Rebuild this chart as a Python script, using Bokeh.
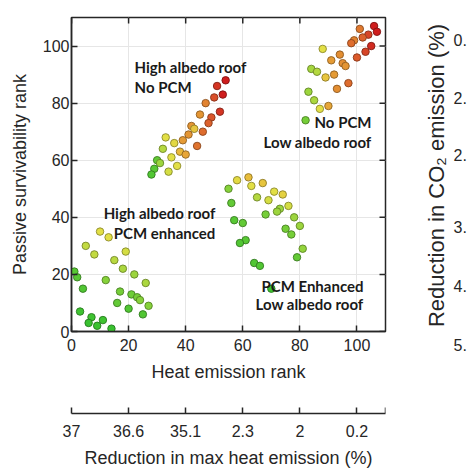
import numpy as np
from bokeh.plotting import figure
from bokeh.layouts import row, column
from bokeh.models import ColumnDataSource, LinearAxis, FixedTicker, Label, Range1d, LinearColorMapper
from bokeh.embed import file_html
from bokeh.resources import INLINE

# ---- data: heat emission rank (x), passive survivability rank (y), colour value c (0 green .. 1 red)
# High albedo roof / No PCM
a_x = [54, 51, 53, 50, 47, 52, 49, 45, 48, 42, 43, 46, 41, 33, 39, 36, 44, 32, 38, 40, 35, 30, 31, 37, 29, 34, 28]
a_y = [88, 86, 83, 82, 80, 77, 75, 76, 73, 72, 71, 70, 69, 68, 67, 66, 65, 64, 63, 62, 61, 60, 59, 58, 57, 56, 55]
a_c = [1.0, 0.95, 1.0, 0.9, 0.75, 0.95, 0.88, 0.7, 0.85, 0.7, 0.55, 0.82, 0.7, 0.45, 0.68, 0.48, 0.8, 0.35, 0.6, 0.65, 0.45, 0.15, 0.3, 0.45, 0.12, 0.42, 0.1]
# No PCM / Low albedo roof
b_x = [106, 107, 101, 104, 102, 99, 98, 105, 103, 88, 94, 100, 91, 95, 96, 84, 86, 92, 89, 97, 93, 83, 85, 90, 87, 82]
b_y = [107, 105, 106, 104, 103, 102, 101, 100, 98, 99, 97, 96, 95, 94, 93, 92, 91, 90, 89, 87, 85, 84, 81, 79, 78, 74]
b_c = [1.0, 1.0, 0.78, 0.92, 0.85, 0.75, 0.82, 0.97, 0.92, 0.45, 0.72, 0.87, 0.68, 0.72, 0.7, 0.32, 0.35, 0.68, 0.55, 0.82, 0.72, 0.3, 0.33, 0.65, 0.45, 0.2]
# PCM Enhanced / Low albedo roof
c_x = [62, 58, 67, 63, 55, 71, 74, 65, 69, 56, 76, 73, 72, 68, 78, 57, 60, 80, 75, 77, 61, 59, 81, 79, 64, 66, 70]
c_y = [54, 53, 52, 51, 50, 49, 48, 47, 46, 45, 44, 43, 42, 41, 40, 39, 38, 37, 36, 34, 32, 31, 29, 26, 24, 23, 15]
c_c = [0.58, 0.47, 0.55, 0.45, 0.25, 0.45, 0.5, 0.35, 0.42, 0.15, 0.42, 0.3, 0.3, 0.2, 0.3, 0.12, 0.15, 0.3, 0.2, 0.2, 0.12, 0.1, 0.28, 0.15, 0.1, 0.1, 0.05]
# High albedo roof / PCM enhanced
d_x = [10, 13, 5, 8, 19, 15, 18, 1, 2, 22, 26, 12, 4, 17, 21, 23, 24, 16, 27, 20, 3, 25, 7, 11, 6, 9, 14]
d_y = [35, 33, 30, 27, 28, 25, 22, 21, 19, 20, 17, 18, 15, 14, 13, 12, 11, 10, 9, 8, 7, 6, 5, 4, 3, 2, 1]
d_c = [0.45, 0.45, 0.38, 0.38, 0.42, 0.36, 0.33, 0.12, 0.12, 0.3, 0.33, 0.25, 0.1, 0.2, 0.18, 0.2, 0.25, 0.15, 0.25, 0.1, 0.05, 0.1, 0.05, 0.05, 0.03, 0.03, 0.03]

x_ticks = [0, 20, 40, 60, 80, 100]
y_ticks = [0, 20, 40, 60, 80, 100]
heat_red_ticks = [0, 20, 40, 60, 80, 100]
heat_red_labels = ["37", "36.6", "35.1", "2.3", "2", "0.2"]
co2_labels = ["0.", "2.", "2.", "3.", "4.", "5."]

# ---- colour palettes (green -> yellow -> orange -> red)
anchors = [(0.0, (47, 191, 47)), (0.25, (134, 210, 58)), (0.45, (226, 223, 69)),
           (0.6, (233, 184, 58)), (0.75, (226, 132, 48)), (0.9, (217, 80, 42)), (1.0, (207, 29, 29))]
def interp(t, k=1.0):
    for (t0, c0), (t1, c1) in zip(anchors[:-1], anchors[1:]):
        if t0 <= t <= t1:
            f = (t - t0) / (t1 - t0)
            rgb = [int(round((a + (b - a) * f) * k)) for a, b in zip(c0, c1)]
            return "#%02x%02x%02x" % tuple(rgb)
    return "#%02x%02x%02x" % anchors[-1][1]
pal = [interp(i / 255) for i in range(256)]
pal_dark = [interp(i / 255, 0.62) for i in range(256)]
fill_map = LinearColorMapper(palette=pal, low=0, high=1)
line_map = LinearColorMapper(palette=pal_dark, low=0, high=1)

FONT = "Liberation Sans"
DARK = "#262626"
XMAX, YMAX = 110, 110
FRAME = 314.0                      # frame size in px
TICK = 6 * XMAX / FRAME            # 6 px tick length in data units

p = figure(width=420, height=395, x_range=Range1d(0, XMAX), y_range=Range1d(0, YMAX),
           output_backend="svg", toolbar_location=None,
           min_border_left=71, min_border_right=35, min_border_top=17, min_border_bottom=64)
p.background_fill_color = "white"
p.border_fill_color = "white"
p.outline_line_color = DARK
p.outline_line_width = 1.5

for gx, gy, gc in [(a_x, a_y, a_c), (b_x, b_y, b_c), (c_x, c_y, c_c), (d_x, d_y, d_c)]:
    src = ColumnDataSource(dict(x=gx, y=gy, c=gc))
    p.scatter("x", "y", source=src, size=7.5,
              fill_color={"field": "c", "transform": fill_map},
              line_color={"field": "c", "transform": line_map}, line_width=0.9)

def style(ax, ticks):
    ax.ticker = FixedTicker(ticks=ticks)
    ax.axis_line_color = DARK
    ax.axis_line_width = 1.5
    ax.major_tick_line_color = DARK
    ax.major_tick_line_width = 1.5
    ax.major_tick_in = 6
    ax.major_tick_out = 0
    ax.minor_tick_line_color = None
    ax.major_label_text_font = FONT
    ax.major_label_text_color = DARK
    ax.major_label_text_font_size = "16px"
    ax.axis_label_text_font = FONT
    ax.axis_label_text_font_style = "normal"
    ax.axis_label_text_font_size = "18px"
    ax.axis_label_text_color = DARK

style(p.xaxis[0], x_ticks)
p.xaxis[0].axis_label = "Heat emission rank"
p.xaxis[0].major_label_standoff = 7
p.xaxis[0].axis_label_standoff = 8

style(p.yaxis[0], y_ticks)
p.yaxis[0].axis_label = "Passive survivability rank"
p.yaxis[0].major_label_standoff = 2
p.yaxis[0].axis_label_standoff = 10

# mirrored ticks on top and right of the box
p.segment(x0=x_ticks, y0=[YMAX] * len(x_ticks), x1=x_ticks, y1=[YMAX - TICK] * len(x_ticks),
          line_color=DARK, line_width=1.5)
p.segment(x0=[XMAX] * len(y_ticks), y0=y_ticks, x1=[XMAX - TICK] * len(y_ticks), y1=y_ticks,
          line_color=DARK, line_width=1.5)

p.xgrid.ticker = FixedTicker(ticks=x_ticks)
p.ygrid.ticker = FixedTicker(ticks=y_ticks)
p.xgrid.grid_line_color = "#e6e6e6"
p.ygrid.grid_line_color = "#e6e6e6"

# ---- annotations inside the plot
ann = [
    ("High albedo roof", 22.1, 92.6, "left"), ("No PCM", 22.1, 85.6, "left"),
    ("No PCM", 105.1, 73.3, "right"), ("Low albedo roof", 105.1, 66.3, "right"),
    ("High albedo roof", 50.4, 41.4, "right"), ("PCM enhanced", 50.4, 34.4, "right"),
    ("PCM Enhanced", 102.3, 16.1, "right"), ("Low albedo roof", 102.3, 9.5, "right"),
]
for t, x, y, al in ann:
    p.add_layout(Label(x=x, y=y, text=t, text_font="Lato", text_font_style="bold",
                       text_font_size="15px", text_color="#1a1a1a",
                       text_align=al, text_baseline="middle"))

# ---- secondary x axis (reduction in max heat emission)
p3 = figure(width=420, height=79, x_range=p.x_range, y_range=Range1d(0, 1),
            output_backend="svg", toolbar_location=None, y_axis_location=None,
            min_border_left=71, min_border_right=35, min_border_top=10, min_border_bottom=61)
p3.outline_line_color = None
p3.xgrid.grid_line_color = None
p3.ygrid.grid_line_color = None
style(p3.xaxis[0], heat_red_ticks)
p3.xaxis[0].major_label_overrides = {t: l for t, l in zip(heat_red_ticks, heat_red_labels)}
p3.xaxis[0].major_label_standoff = 11
p3.xaxis[0].axis_label = "Reduction in max heat emission (%)"
p3.xaxis[0].axis_label_standoff = 8
p3.segment(x0=[XMAX], y0=[0], x1=[XMAX], y1=[0.75], line_color=DARK, line_width=1.5)

# ---- neighbouring panel (cut off at the right edge of the picture)
p2 = figure(width=54, height=474, x_range=Range1d(420, 474), y_range=Range1d(474, 0),
            output_backend="svg", toolbar_location=None, x_axis_location=None, y_axis_location=None,
            min_border=0)
p2.outline_line_color = None
p2.xgrid.grid_line_color = None
p2.ygrid.grid_line_color = None
p2.add_layout(Label(x=436, y=175, text="Reduction in CO₂ emission (%)", angle=np.pi / 2,
                    text_font=FONT, text_font_size="22px", text_color=DARK,
                    text_align="center", text_baseline="middle"))
for lab, yy in zip(co2_labels, [39, 97, 154, 226, 285, 344]):
    p2.add_layout(Label(x=453, y=yy, text=lab, text_font=FONT, text_font_size="16px",
                        text_color=DARK, text_align="left", text_baseline="middle"))

layout = row(column(p, p3), p2)
open("out.html", "w").write(file_html(layout, INLINE))
